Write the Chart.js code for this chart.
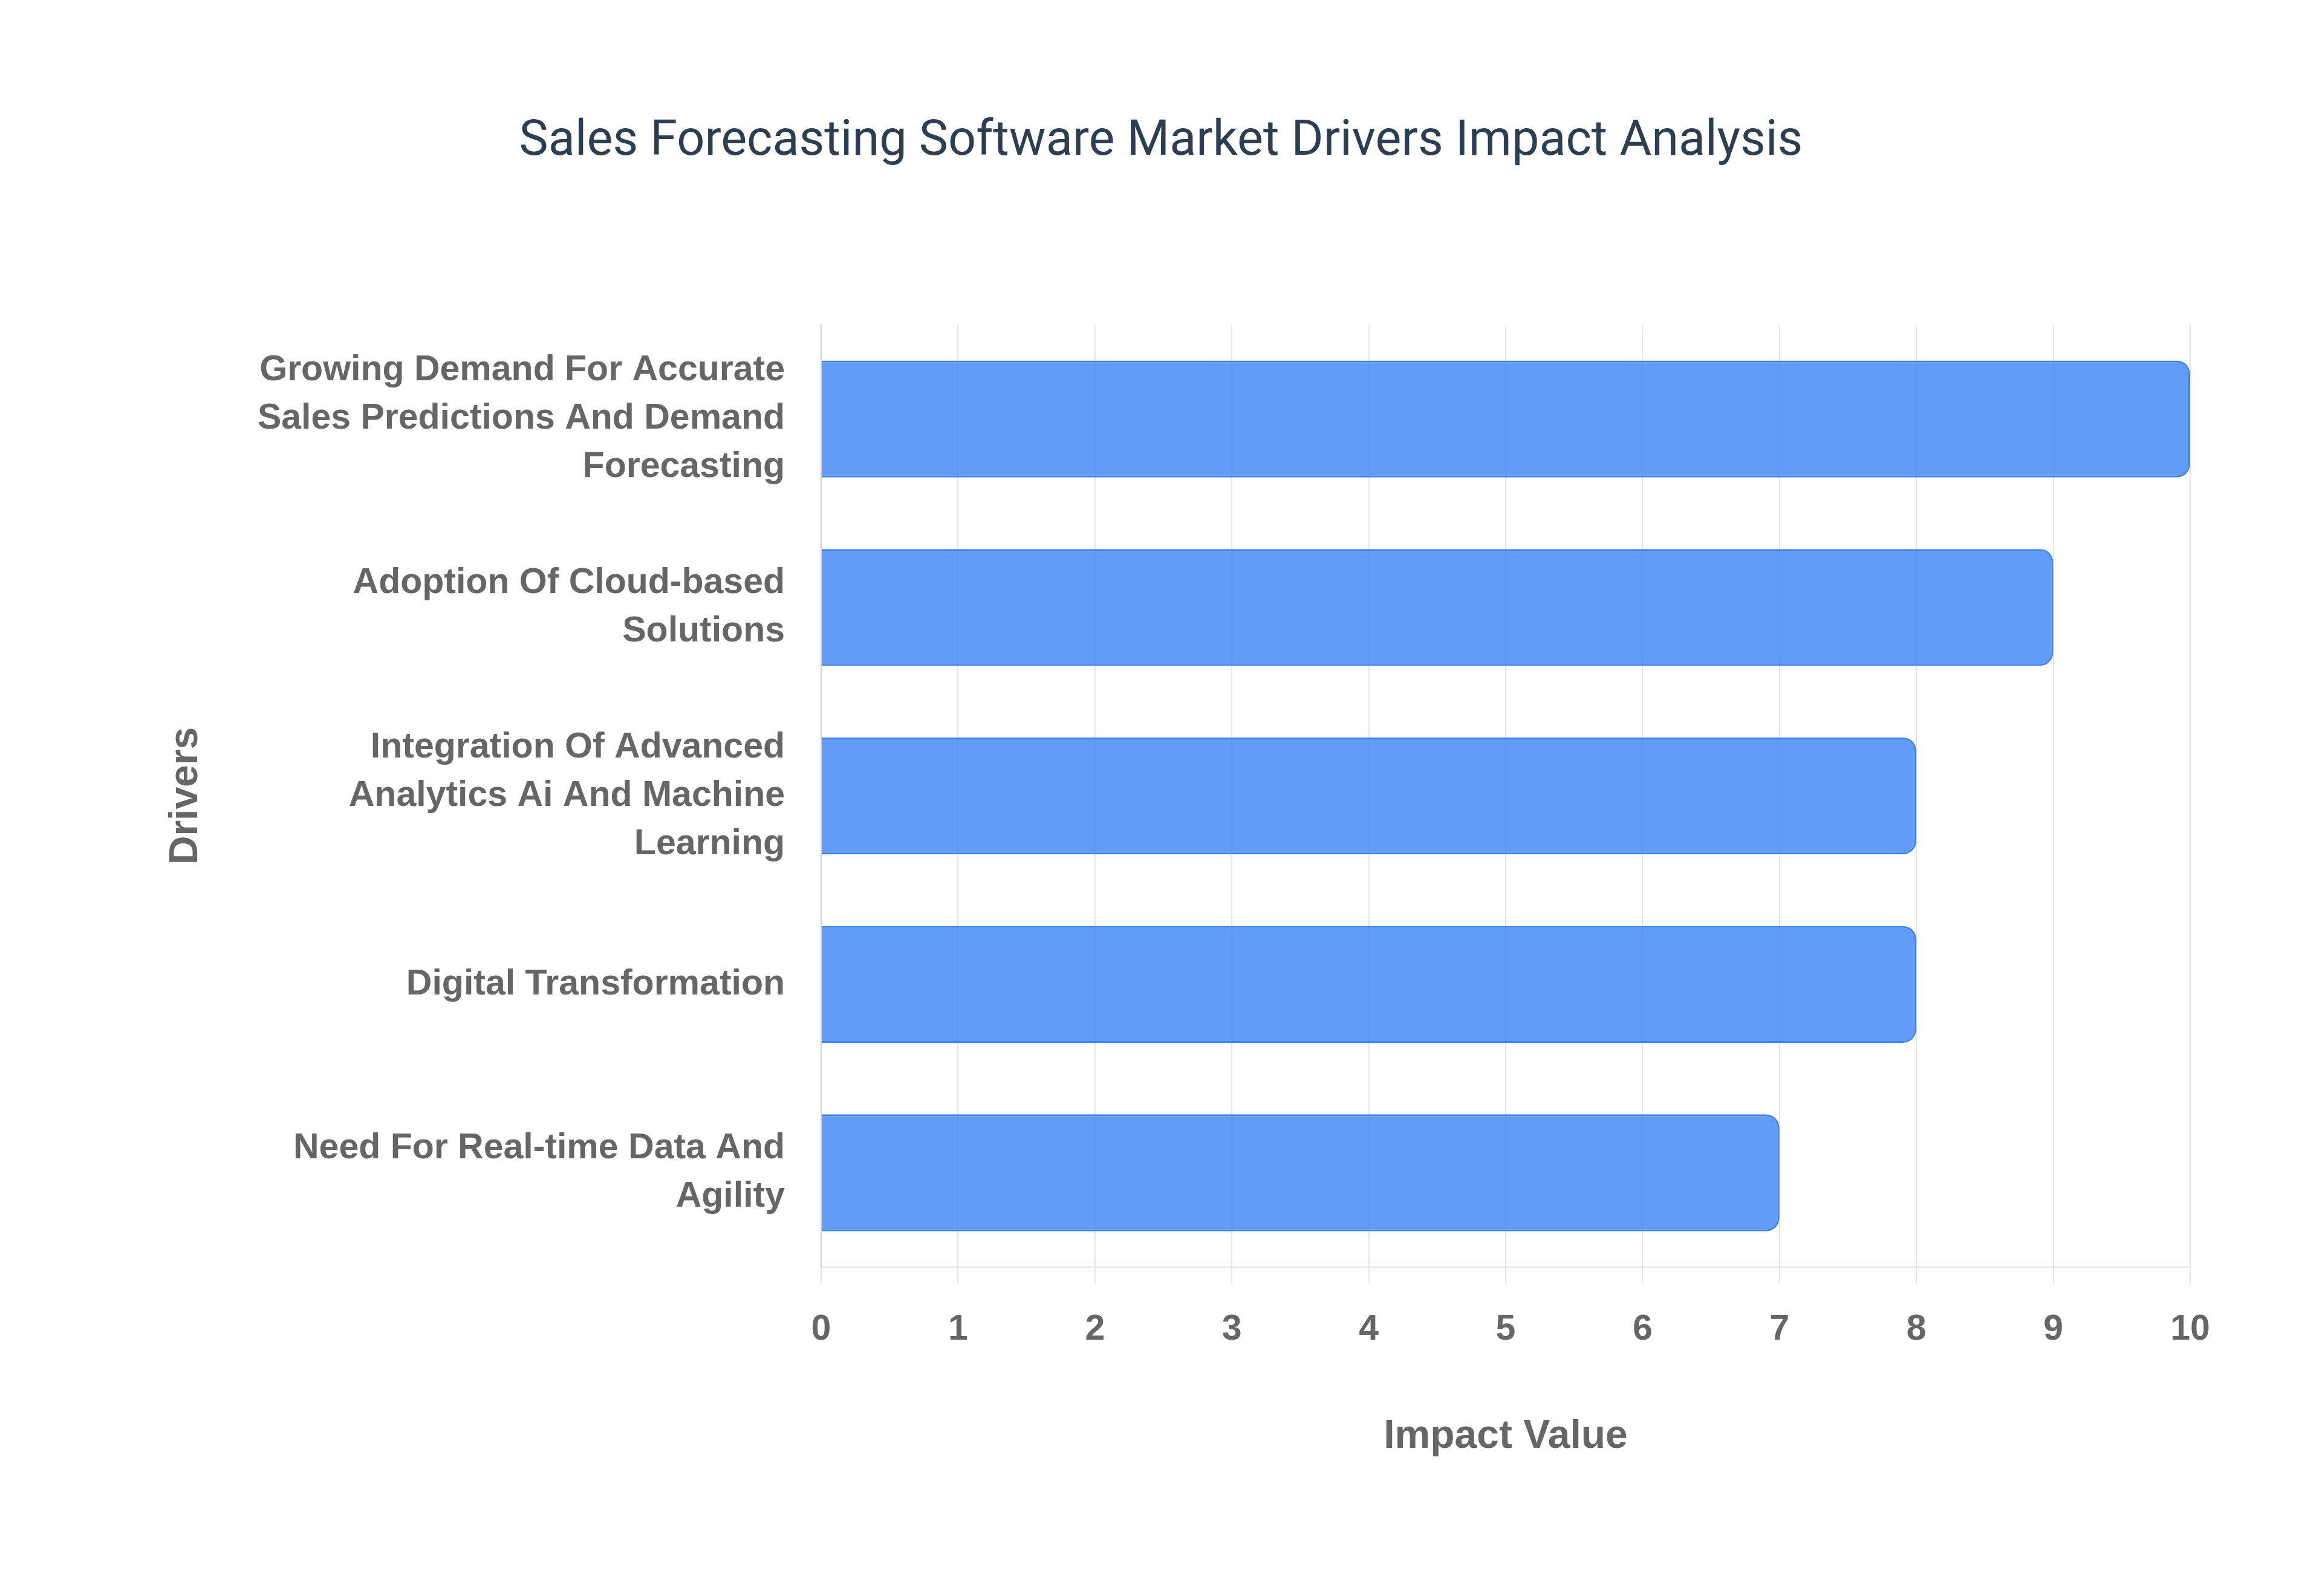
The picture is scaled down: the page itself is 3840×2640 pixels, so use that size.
<!DOCTYPE html>
<html>
<head>
<meta charset="utf-8">
<title>Sales Forecasting Software Market Drivers Impact Analysis</title>
<script src="https://cdn.jsdelivr.net/npm/chart.js@4.4.1/dist/chart.umd.min.js"></script>
<style>
  html, body { margin: 0; padding: 0; background: #ffffff; }
  #wrap { width: 3840px; height: 2640px; }
</style>
</head>
<body>
<div id="wrap"><canvas id="driversChart"></canvas></div>
<script>
// categories, one line per array entry
const drivers = [
    ["Growing Demand For Accurate", "Sales Predictions And Demand", "Forecasting"],
    ["Adoption Of Cloud-based", "Solutions"],
    ["Integration Of Advanced", "Analytics Ai And Machine", "Learning"],
    "Digital Transformation",
    ["Need For Real-time Data And", "Agility"]
];
const impactValues = [10, 9, 8, 8, 7];

const impactMin = 0;
const impactMax = 10;
const impactStep = 1;

const labelFont = "'Liberation Sans', Arial, Helvetica, sans-serif";
const gridColor = "rgba(0, 0, 0, 0.1)";

const driversChart = new Chart(document.getElementById("driversChart"), {
    type: "bar",
    data: {
        labels: drivers,
        datasets: [{
            label: "Impact Value",
            data: impactValues,
            backgroundColor: "rgba(59, 130, 246, 0.8)",
            borderColor: "rgb(59, 130, 246)",
            borderWidth: 3,
            borderRadius: 22,
            categoryPercentage: 0.8,
            barPercentage: 0.775
        }]
    },
    options: {
        indexAxis: "y",
        responsive: true,
        maintainAspectRatio: false,
        devicePixelRatio: 1,
        animation: false,
        layout: {
            padding: { top: 0, right: 218, bottom: 224, left: 218 }
        },
        plugins: {
            legend: { display: false },
            tooltip: { enabled: false },
            title: {
                display: true,
                text: "Sales Forecasting Software Market Drivers Impact Analysis",
                color: "#2c3e50",
                font: { family: "Roboto, 'Noto Sans', sans-serif", size: 81, weight: "normal" },
                padding: { top: 187, bottom: 253 }
            }
        },
        scales: {
            x: {
                type: "linear",
                min: impactMin,
                max: impactMax,
                ticks: {
                    stepSize: impactStep,
                    color: "#666666",
                    padding: 38,
                    font: { family: labelFont, size: 59, weight: "bold", lineHeight: 1.27 }
                },
                grid: {
                    color: gridColor,
                    lineWidth: 2,
                    tickLength: 28
                },
                border: { color: gridColor, width: 2 },
                title: {
                    display: true,
                    text: "Impact Value",
                    color: "#666666",
                    font: { family: labelFont, size: 66, weight: "bold" },
                    padding: { top: 62, bottom: 0 }
                }
            },
            y: {
                grid: { display: false, drawTicks: false },
                border: { display: true, color: gridColor, width: 2 },
                ticks: {
                    color: "#666666",
                    padding: 60,
                    font: { family: labelFont, size: 59, weight: "bold", lineHeight: 1.356 }
                },
                title: {
                    display: true,
                    text: "Drivers",
                    color: "#666666",
                    font: { family: labelFont, size: 66, weight: "bold" },
                    padding: { top: 50, bottom: 0 }
                },
                afterFit: function (scale) {
                    scale.width = 1140;
                }
            }
        }
    }
});
</script>
</body>
</html>
